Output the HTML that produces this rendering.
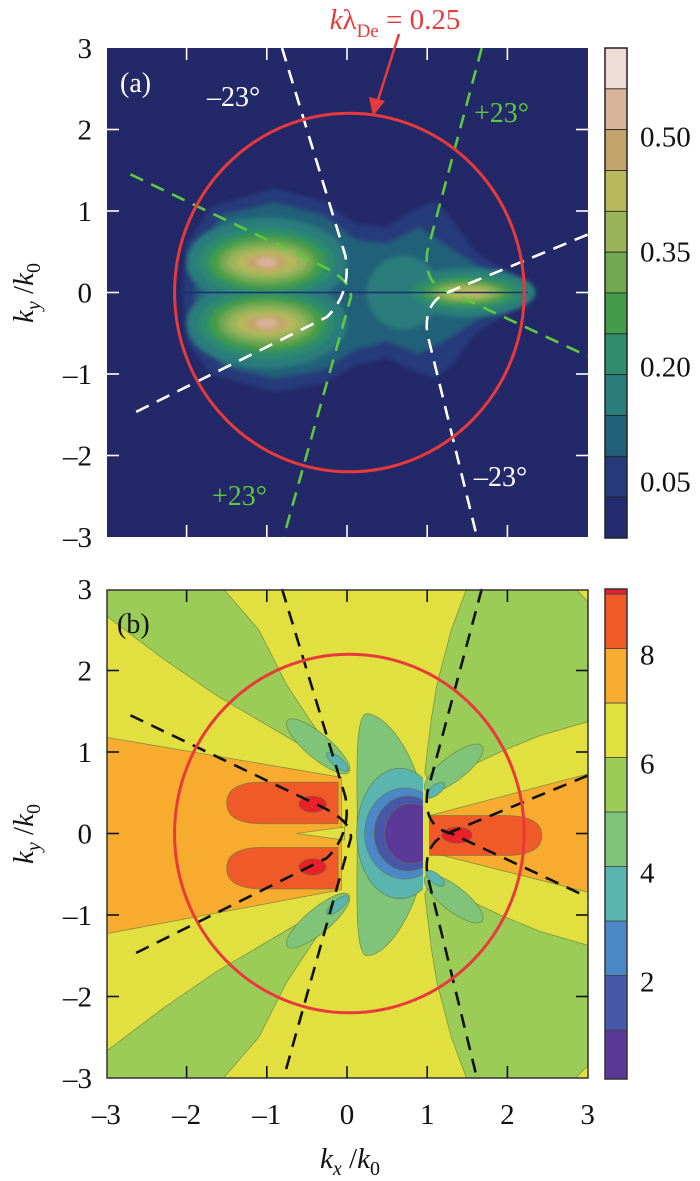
<!DOCTYPE html>
<html><head><meta charset="utf-8"><style>
html,body{margin:0;padding:0;background:#fff;}
svg{display:block;font-family:"Liberation Serif",serif;}
</style></head><body>
<svg id="fig" width="700" height="1181" viewBox="0 0 700 1181" xmlns="http://www.w3.org/2000/svg">
<defs>
<clipPath id="clipA"><rect x="107" y="48" width="481" height="489"/></clipPath>
<clipPath id="clipB"><rect x="107" y="590" width="481" height="488"/></clipPath>
<clipPath id="clipLens"><rect x="107" y="590" width="316" height="488"/></clipPath>
<filter id="soft" x="-10%" y="-10%" width="120%" height="120%"><feGaussianBlur stdDeviation="2.2"/></filter>
</defs>
<g id="panelA"></g>
<g id="panelB"></g>
<g id="cbars"></g>
<g id="labels"></g>
</svg>
<script>
// ---- data ----
const ticks = [-3,-2,-1,0,1,2,3];
const tickLabels = ['–3','–2','–1','0','1','2','3'];
const cbarAColors = ['#f0dcd6','#d9b39a','#c3a46a','#b8b85c','#9ab45a','#72a852','#439c4a','#2f8c6c','#2a7d7c','#22607a','#263a7a','#242c70'];
const cbarATickVals = [0.50,0.35,0.20,0.05];
const cbarATickLabels = ['0.50','0.35','0.20','0.05'];
const cbarBBounds = [0.1,1,2,3,4,5,6,7,8,9,9.1];
const cbarBColors = ['#5c3898','#4858a8','#4a88c8','#5ab4b0','#80c47a','#9ccc58','#e2e040','#f7ac30','#f05a28','#e8202a'];
const cbarBTickVals = [8,6,4,2];
const cbarBTickLabels = ['8','6','4','2'];
const circleK = {cx:0.03, cy:0, rx:2.18, ry:2.2};
const dashA = [[-2.7,1.45],[-0.3,0.32],[0.05,0.15,0.05,-0.05],[-0.79,-3]];
const dashB = [[-0.81,3],[-0.02,0.45],[0.06,0.0,-0.25,-0.3],[-2.66,-1.48]];
const dashC = [[1.68,3],[1.0,0.5],[0.95,0.08,1.3,0.0],[3,-0.78]];
const dashD = [[3,0.71],[1.3,0.02],[0.95,-0.1,1.0,-0.5],[1.62,-3]];
const blobOuter = [[-2.05,0],[-2.0,0.6],[-1.7,1.05],[-0.9,1.28],[-0.3,1.12],[0.1,0.85],[0.5,0.8],[0.8,1.0],[1.1,1.12],[1.3,0.9],[1.6,0.5],[2.1,0.2],[2.35,0],[2.1,-0.2],[1.6,-0.5],[1.3,-0.9],[1.1,-1.05],[0.8,-0.95],[0.5,-0.8],[0.1,-0.9],[-0.3,-1.12],[-0.9,-1.22],[-1.7,-1.0],[-2.0,-0.6]];
const blobInner = [[-1.9,0],[-1.85,0.5],[-1.55,0.95],[-0.9,1.1],[-0.3,0.95],[0.1,0.65],[0.5,0.6],[0.9,0.8],[1.2,0.6],[1.6,0.35],[2.15,0],[1.6,-0.35],[1.2,-0.6],[0.9,-0.75],[0.5,-0.6],[0.1,-0.7],[-0.3,-0.95],[-0.9,-1.05],[-1.55,-0.9],[-1.85,-0.5]];
const blobLevelColors = ['#2a7d7c','#2f8c6c','#439c4a','#72a852','#9ab45a','#b8b85c','#c3a46a','#d9b39a'];
const blobLeftRx = [1.0,0.85,0.72,0.6,0.5,0.38,0.26,0.13];
const blobLeftRy = [0.55,0.43,0.34,0.27,0.2,0.14,0.1,0.06];
const blobRightRx = [0.85,0.7,0.55,0.45,0.35,0.25,0,0];
const blobRightRy = [0.3,0.22,0.16,0.12,0.09,0.06,0,0];
const greenUL = [[-3,3],[-1.54,3],[-1.1,2.5],[-0.75,1.82],[-0.4,1.3],[-0.17,1.0],[-0.02,0.75],[-0.6,1.1],[-1.62,1.69],[-2.3,2.15],[-3,2.67]];
const greenUR = [[1.49,3],[2.85,3],[3,2.85],[3,1.37],[2.4,1.2],[1.91,1.0],[1.03,0.59],[0.97,0.75],[1.05,1.4],[1.12,1.82],[1.3,2.5]];
const orangeL = [[-3,1.18],[-0.07,0.69],[-0.07,-0.69],[-3,-1.23]];
const orangeR = [[3,0.73],[1.03,0.22],[1.03,-0.23],[3,-0.72]];
const redLobes = [{x0:-1.5,x1:-0.11,y0:0.12,y1:0.63,side:'L'},{x0:-1.5,x1:-0.11,y0:-0.68,y1:-0.17,side:'L'},{x0:1.03,x1:2.43,y0:-0.27,y1:0.22,side:'R'}];
const redCores = [[-0.43,0.36,0.17,0.1],[-0.43,-0.41,0.17,0.1],[1.37,-0.02,0.19,0.1]];
const lensNest = [[0.66,0,0.54,0.8,'#5ab4b0'],[0.72,0,0.5,0.56,'#4a88c8'],[0.76,0,0.42,0.46,'#4858a8'],[0.8,0,0.33,0.37,'#5c3898']];
const sideLobes = [[-0.36,1.07,0.5,0.15,40,'#80c47a'],[-0.12,0.88,0.17,0.06,40,'#5ab4b0'],[-0.36,-1.07,0.5,0.15,-40,'#80c47a'],[-0.12,-0.88,0.17,0.06,-40,'#5ab4b0'],[1.33,0.8,0.45,0.15,-38,'#80c47a'],[1.1,0.53,0.14,0.06,-38,'#5ab4b0'],[1.33,-0.8,0.45,0.15,38,'#80c47a'],[1.1,-0.55,0.14,0.06,38,'#5ab4b0']];
const wedge = [[-0.63,0],[-0.03,0.08],[-0.03,-0.08]];

const NS='http://www.w3.org/2000/svg';
function X(k){return 347+k*80.2;}
function Ya(k){return 292.5-k*81.5;}
function Yb(k){return 833.5-k*81.5;}
function el(tag,attrs,parent){const e=document.createElementNS(NS,tag);for(const a in attrs)e.setAttribute(a,attrs[a]);parent.appendChild(e);return e;}
function pts(arr,Y){return arr.map(p=>X(p[0]).toFixed(1)+','+Y(p[1]).toFixed(1)).join(' ');}
function dpath(arr,Y){let d='M'+X(arr[0][0])+','+Y(arr[0][1]);for(let i=1;i<arr.length;i++){const p=arr[i];if(p.length===4)d+=' Q'+X(p[0])+','+Y(p[1])+' '+X(p[2])+','+Y(p[3]);else d+=' L'+X(p[0])+','+Y(p[1]);}return d;}
function lobePath(l,Y){const cap=0.45;let d;const ym=(l.y0+l.y1)/2;if(l.side==='L'){d='M'+X(l.x1)+','+Y(l.y1)+' L'+X(l.x0+cap)+','+Y(l.y1)+' Q'+X(l.x0)+','+Y(l.y1)+' '+X(l.x0)+','+Y(ym)+' Q'+X(l.x0)+','+Y(l.y0)+' '+X(l.x0+cap)+','+Y(l.y0)+' L'+X(l.x1)+','+Y(l.y0)+' Z';}else{d='M'+X(l.x0)+','+Y(l.y1)+' L'+X(l.x1-cap)+','+Y(l.y1)+' Q'+X(l.x1)+','+Y(l.y1)+' '+X(l.x1)+','+Y(ym)+' Q'+X(l.x1)+','+Y(l.y0)+' '+X(l.x1-cap)+','+Y(l.y0)+' L'+X(l.x0)+','+Y(l.y0)+' Z';}return d;}

// ---- panel (a) ----
const A=document.getElementById('panelA');
let e=el('rect',{x:107,y:48,width:481,height:489,fill:'#232868'},A);


const ga=el('g',{'clip-path':'url(#clipA)'},A);
const blob=el('g',{filter:'url(#soft)'},ga);


e=el('polygon',{points:pts(blobOuter,Ya),fill:'#263a7a'},blob);


e=el('polygon',{points:pts(blobInner,Ya),fill:'#22607a'},blob);


blobLevelColors.forEach((c,i)=>{
  [0.37,-0.38].forEach(cy=>{
    const el1=el('ellipse',{cx:X(-1.0),cy:Ya(cy),rx:blobLeftRx[i]*80.2,ry:blobLeftRy[i]*81.5,fill:c},blob);
    
    
  });
  if(blobRightRx[i]>0){
    const el2=el('ellipse',{cx:X(1.5),cy:Ya(0),rx:blobRightRx[i]*80.2,ry:blobRightRy[i]*81.5,fill:c},blob);
    
    
  }
  if(i<1){
    const el3=el('ellipse',{cx:X(0.7),cy:Ya(0),rx:0.45*80.2,ry:0.45*81.5,fill:c},blob);
    
    
  }
});
e=el('line',{x1:X(-2.1),x2:X(2.25),y1:Ya(0),y2:Ya(0),stroke:'#1e2f6e','stroke-width':1.6},ga);


[[dashA,'#5ec840'],[dashC,'#5ec840'],[dashB,'#ffffff'],[dashD,'#ffffff']].forEach(([d,c])=>{
  const p=el('path',{d:dpath(d,Ya),fill:'none',stroke:c,'stroke-width':2.6,'stroke-dasharray':'14 9'},ga);
  
  
});
e=el('ellipse',{cx:X(circleK.cx),cy:Ya(circleK.cy),rx:circleK.rx*80.2,ry:circleK.ry*81.5,fill:'none',stroke:'#e83a3c','stroke-width':3},ga);



// ---- panel (b) ----
const B=document.getElementById('panelB');
e=el('rect',{x:107,y:590,width:481,height:488,fill:'#e2e040'},B);


const gb=el('g',{'clip-path':'url(#clipB)',stroke:'#5d7a3a','stroke-width':0.8,'stroke-opacity':0.7},B);
function flipY(arr){return arr.map(p=>[p[0],-p[1]]);}
[[greenUL,'green-ul'],[flipY(greenUL),'green-ll'],[greenUR,'green-ur'],[flipY(greenUR),'green-lr']].forEach(([arr,n])=>{
  const p=el('polygon',{points:pts(arr,Yb),fill:'#9ccc58'},gb);
  
  
});
[[orangeL,'orange-left'],[orangeR,'orange-right']].forEach(([arr,n])=>{
  const p=el('polygon',{points:pts(arr,Yb),fill:'#f7ac30'},gb);
  
  
});
redLobes.forEach(l=>{
  const p=el('path',{d:lobePath(l,Yb),fill:'#f05a28'},gb);
  
  
});
redCores.forEach(c=>{
  const p=el('ellipse',{cx:X(c[0]),cy:Yb(c[1]),rx:c[2]*80.2,ry:c[3]*81.5,fill:'#e8202a'},gb);
  
  
});
e=el('polygon',{points:pts(wedge,Yb),fill:'#e2e040'},gb);


sideLobes.forEach(s=>{
  const p=el('ellipse',{cx:X(s[0]),cy:Yb(s[1]),rx:s[2]*80.2,ry:s[3]*81.5,fill:s[5],transform:'rotate('+s[4]+' '+X(s[0])+' '+Yb(s[1])+')'},gb);
  
  
});
const lensD='M'+X(0.25)+','+Yb(1.47)+' C'+X(0.55)+','+Yb(1.45)+' '+X(0.93)+','+Yb(0.8)+' '+X(0.93)+','+Yb(0.4)+' L'+X(0.93)+','+Yb(-0.4)+' C'+X(0.93)+','+Yb(-0.8)+' '+X(0.55)+','+Yb(-1.5)+' '+X(0.25)+','+Yb(-1.5)+' C'+X(0.1)+','+Yb(-1.5)+' '+X(0.12)+','+Yb(-0.8)+' '+X(0.13)+','+Yb(0)+' C'+X(0.12)+','+Yb(0.8)+' '+X(0.1)+','+Yb(1.47)+' '+X(0.25)+','+Yb(1.47)+' Z';
e=el('path',{d:lensD,fill:'#80c47a'},gb);


const nest=el('g',{'clip-path':'url(#clipLens)'},gb);
lensNest.forEach(n=>{
  const p=el('ellipse',{cx:X(n[0]),cy:Yb(n[1]),rx:n[2]*80.2,ry:n[3]*81.5,fill:n[4]},nest);
  
  
});
[dashA,dashB,dashC,dashD].forEach(d=>{
  const p=el('path',{d:dpath(d,Yb),fill:'none',stroke:'#111','stroke-width':2.6,'stroke-dasharray':'14 9'},B);
  
  
});
e=el('ellipse',{cx:X(circleK.cx),cy:Yb(circleK.cy),rx:circleK.rx*80.2,ry:circleK.ry*81.5,fill:'none',stroke:'#e83a3c','stroke-width':3},B);


e=el('rect',{x:107,y:590,width:481,height:488,fill:'none',stroke:'#333','stroke-width':1.5},B);



function drawTicks(parent,Y,top,bot,col){
  ticks.slice(1,6).forEach(t=>{
    [[X(t),bot,X(t),bot-12],[X(t),top,X(t),top+12],[107,Y(t),119,Y(t)],[588,Y(t),576,Y(t)]].forEach(c=>{
      const l=el('line',{x1:c[0],y1:c[1],x2:c[2],y2:c[3],stroke:col,'stroke-width':1.6},parent);
      
      
    });
  });
}
drawTicks(A,Ya,48,537,'#ffffff');
drawTicks(B,Yb,590,1078,'#111');

const L=document.getElementById('labels');
ticks.forEach((t,i)=>{
  [[Ya,'y-tick-label-a'],[Yb,'y-tick-label-b']].forEach(([Y,n])=>{
    const tx=el('text',{x:92,y:Y(t)+10,'font-size':29,'text-anchor':'end',fill:'#111'},L);
    tx.textContent=tickLabels[i];
    
    
  });
  const tx=el('text',{x:X(t),y:1124,'font-size':29,'text-anchor':'middle',fill:'#111'},L);
  tx.textContent=tickLabels[i];
  
  
});

const C=document.getElementById('cbars');
const binH=(538-48)/cbarAColors.length;
cbarAColors.forEach((c,i)=>{
  const r=el('rect',{x:605,y:48+i*binH,width:22,height:binH,fill:c,stroke:'#222','stroke-width':0.8},C);
  
  
});
function cbAY(v){return 520-767*v;}
cbarATickVals.forEach((v,i)=>{
  const t=el('text',{x:640,y:cbAY(v)+10,'font-size':29,fill:'#111'},C);
  t.textContent=cbarATickLabels[i];
  
  
});
function cbBY(v){return 1084.5-54.5*v;}
cbarBColors.forEach((c,i)=>{
  const y0=Math.max(589,cbBY(cbarBBounds[i+1])), y1=Math.min(1079,cbBY(cbarBBounds[i]));
  const r=el('rect',{x:605,y:y0,width:22,height:y1-y0,fill:c,stroke:'#444','stroke-width':0.8},C);
  
  
});
cbarBTickVals.forEach((v,i)=>{
  const t=el('text',{x:640,y:cbBY(v)+16,'font-size':29,fill:'#111'},C);
  t.textContent=cbarBTickLabels[i];
  
  
});
e=el('rect',{x:605,y:48,width:22,height:490,fill:'none',stroke:'#222','stroke-width':1.5},C);


e=el('rect',{x:605,y:589,width:22,height:490,fill:'none',stroke:'#333','stroke-width':1.5},C);


</script>
<svg width="700" height="1181" style="position:absolute;left:0;top:0" xmlns="http://www.w3.org/2000/svg">
<g font-family="Liberation Serif, serif">
<text x="120" y="92" font-size="28" fill="#fff">(a)</text>
<text x="117" y="633" font-size="28" fill="#111">(b)</text>
<text x="207" y="106" font-size="28" fill="#fff">–23°</text>
<text x="474" y="122" font-size="28" fill="#5ec840">+23°</text>
<text x="212" y="505" font-size="28" fill="#5ec840">+23°</text>
<text x="474" y="486" font-size="28" fill="#fff">–23°</text>
<text x="395" y="29" font-size="29" fill="#e83a3c" text-anchor="middle"><tspan font-style="italic">k</tspan>λ<tspan font-size="19" dy="8">De</tspan><tspan dy="-8"> = 0.25</tspan></text>
<line x1="399" y1="34" x2="378" y2="100" stroke="#e83a3c" stroke-width="2.5"/>
<polygon points="373,116 369,97 385,101" fill="#e83a3c"/>
<text transform="translate(33,293) rotate(-90)" font-size="29" text-anchor="middle" fill="#111"><tspan font-style="italic">k</tspan><tspan font-style="italic" font-size="20" dy="7">y</tspan><tspan dy="-7"> /</tspan><tspan font-style="italic">k</tspan><tspan font-size="20" dy="7">0</tspan></text>
<text transform="translate(33,834) rotate(-90)" font-size="29" text-anchor="middle" fill="#111"><tspan font-style="italic">k</tspan><tspan font-style="italic" font-size="20" dy="7">y</tspan><tspan dy="-7"> /</tspan><tspan font-style="italic">k</tspan><tspan font-size="20" dy="7">0</tspan></text>
<text x="350" y="1168" font-size="29" text-anchor="middle" fill="#111"><tspan font-style="italic">k</tspan><tspan font-style="italic" font-size="20" dy="7">x</tspan><tspan dy="-7"> /</tspan><tspan font-style="italic">k</tspan><tspan font-size="20" dy="7">0</tspan></text>
</g>
</svg>
</body></html>
